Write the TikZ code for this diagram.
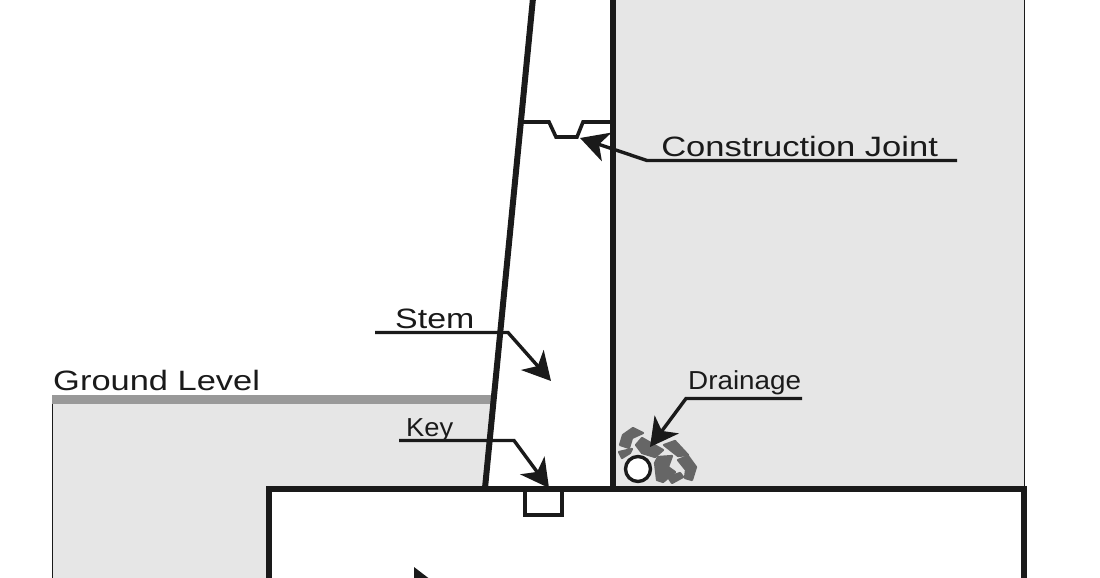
\documentclass[tikz,border=0pt]{standalone}
\usepackage{fontspec}
\setmainfont{Liberation Sans}
\usetikzlibrary{arrows.meta}
\definecolor{ink}{HTML}{1A1A1A}
\definecolor{soil}{HTML}{E6E6E6}
\definecolor{grade}{HTML}{999999}
\definecolor{rock}{HTML}{666666}
\tikzset{
  wall/.style={draw=ink,line width=6pt},
  thin wall/.style={draw=ink,line width=3.6pt},
  leader/.style={draw=ink,line width=3.4pt,-{Stealth[length=28pt,width=30pt,inset=8pt]}},
  label/.style={text=ink,inner sep=0pt,anchor=base west},
  stone/.style={fill=rock,draw=rock,line width=2.2pt,line join=round},
}
\begin{document}
\begin{tikzpicture}[x=1pt,y=-1pt]
\useasboundingbox (0,0) rectangle (1100,578);
\clip (0,0) rectangle (1100,578);
% soil
\fill[soil] (613,0) rectangle (1024,488);
\fill[soil] (52,403) -- (492,403) -- (485,488) -- (268,488) -- (268,578) -- (52,578) -- cycle;
\draw[ink,line width=1pt] (1024,0) -- (1024,488);
\draw[ink,line width=1pt] (52,403) -- (52,578);
\fill[grade] (52,394.5) rectangle (492,403.5);
% wall
\draw[wall] (533,-2) -- (485,488);
\draw[wall] (613,-2) -- (613,488);
\draw[wall,fill=white] (268.5,590) -- (268.5,488.5) -- (1024,488.5) -- (1024,590);
\draw[thin wall] (525,489) -- (525,515) -- (562,515) -- (562,489);
% joint
\draw[thin wall] (522,122) -- (549,122) -- (556,137) -- (577,137) -- (583,122) -- (612,122);
% rocks
\filldraw[stone] (620,445) -- (623,435) -- (633,428) -- (643,433) -- (632,438) -- (629,448) -- cycle;
\filldraw[stone] (619,452) -- (632,449) -- (630,453) -- (622,458) -- cycle;
\filldraw[stone] (636,445) -- (642,438) -- (663,450) -- (655,457) -- (642,453) -- cycle;
\filldraw[stone] (664,445) -- (675,441) -- (688,455) -- (678,456) -- cycle;
\filldraw[stone] (655,463) -- (658,457) -- (672,456) -- (668,467) -- (675,472) -- (663,482) -- (657,480) -- cycle;
\filldraw[stone] (678,460) -- (688,456) -- (696,467) -- (692,480) -- (685,478) -- (686,470) -- cycle;
\filldraw[stone] (668,477) -- (680,473) -- (683,477) -- (672,483) -- cycle;
\node[circle,draw=ink,line width=3.4pt,fill=white,minimum size=25pt,inner sep=0pt] (pipe) at (638,469) {};
% labels
\node[label,font=\fontsize{28}{28}\selectfont,xscale=1.235] (cj) at (661,156) {Construction Joint};
\node[label,font=\fontsize{28}{28}\selectfont,xscale=1.21] (st) at (395,328) {Stem};
\node[label,font=\fontsize{28}{28}\selectfont,xscale=1.23] (gl) at (53,390) {Ground Level};
\node[label,font=\fontsize{26}{26}\selectfont,xscale=1.05] (ky) at (406,436) {Key};
\node[label,font=\fontsize{26}{26}\selectfont,xscale=1.07] (dr) at (688,389) {Drainage};
% leaders
\coordinate (cjA) at (957,160.5); \coordinate (cjB) at (647,160.5); \coordinate (cjT) at (580,138);
\coordinate (stA) at (375,332.5); \coordinate (stB) at (508,332.5); \coordinate (stT) at (551,381);
\coordinate (kyA) at (399,440.5); \coordinate (kyB) at (514,440.5); \coordinate (kyT) at (549,488);
\coordinate (drA) at (802,398.5); \coordinate (drB) at (686,398.5); \coordinate (drT) at (650,447);
\draw[leader] (cjA) -- (cjB) -- (cjT);
\draw[leader] (stA) -- (stB) -- (stT);
\draw[leader] (kyA) -- (kyB) -- (kyT);
\draw[leader] (drA) -- (drB) -- (drT);
\fill[ink] (414,567) -- (414,580) -- (431,580) -- cycle;
\end{tikzpicture}
\end{document}
